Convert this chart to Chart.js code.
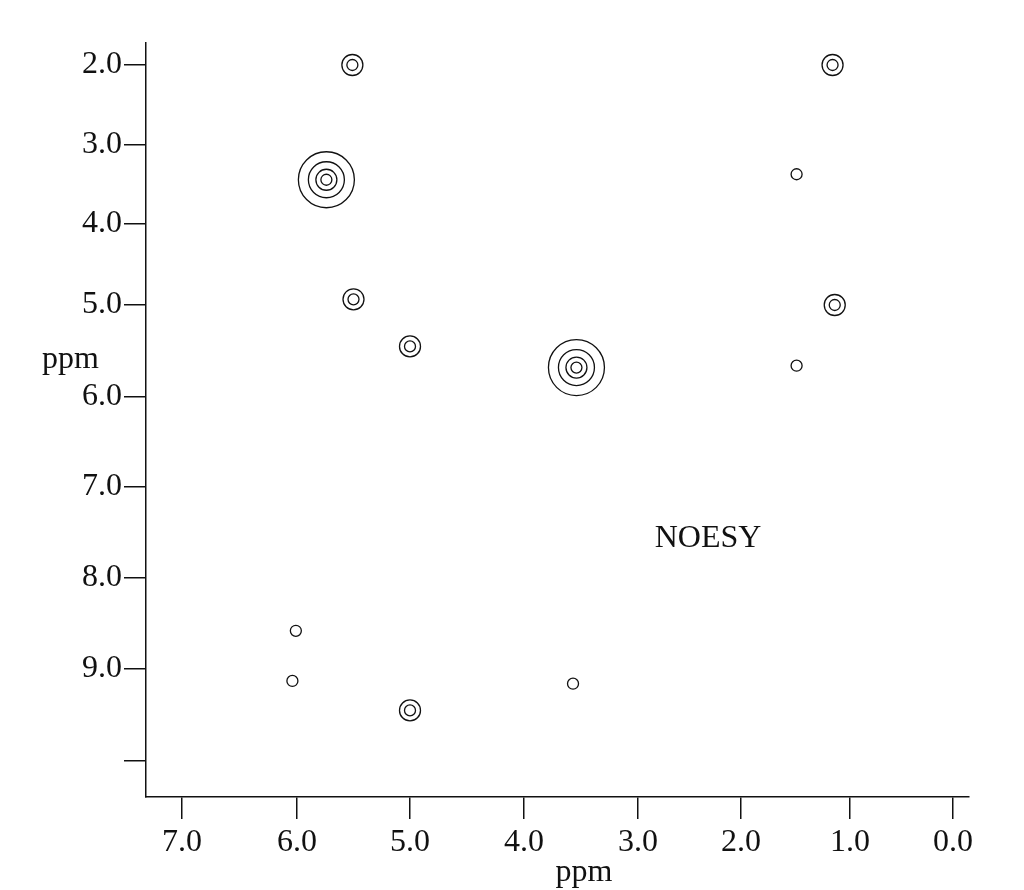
<!DOCTYPE html>
<html><head><meta charset="utf-8">
<script src="https://cdn.jsdelivr.net/npm/chart.js@4"></script>
<style>html,body{margin:0;padding:0;background:#fff}#w{width:1024px;height:890px}</style>
</head><body><div id="w"><canvas id="c"></canvas></div>
<script>
// Peak positions (ppm) and number of contour rings
const peakX = [5.51, 1.16, 5.74, 1.49, 5.50, 1.14, 5.00, 3.54, 1.49, 6.01, 6.04, 5.00, 3.57];
const peakY = [2.00, 2.00, 3.44, 3.37, 4.93, 5.00, 5.45, 5.68, 5.66, 8.58, 9.13, 9.45, 9.16];
const peakRings = [2, 2, 4, 1, 2, 2, 2, 4, 1, 1, 1, 2, 1];
const xTickValues = [7, 6, 5, 4, 3, 2, 1, 0];
const yTickValues = [2, 3, 4, 5, 6, 7, 8, 9, 10];
const yTickLabels = ['2.0','3.0','4.0','5.0','6.0','7.0','8.0','9.0',''];
const xTickLabels = ['7.0','6.0','5.0','4.0','3.0','2.0','1.0','0.0'];

// Scale layout (fraction of axis length at each anchor value) – styling only
const xAnch = {v:[7.31,7,6,5,4,3,2,1,0,-0.15], f:[0,36,151,264,378,492,595,704,807,823].map(p=>p/823)};
const yAnch = {v:[1.72,2,3,4,5,6,7,8,9,10,10.39], f:[0,22,102,181,262,354,444,535,626,718,754].map(p=>p/754)};
const ringRadii = [5.5, 10.5, 18, 28];

function interp(xs, ys, v){
  const inc = xs[xs.length-1] > xs[0];
  for(let i=0;i<xs.length-1;i++){
    const a=xs[i], b=xs[i+1];
    if((v>=Math.min(a,b) && v<=Math.max(a,b)) || i===xs.length-2){
      return ys[i] + (v-a)*(ys[i+1]-ys[i])/(b-a);
    }
  }
}
class PiecewiseScale extends Chart.LinearScale {
  getPixelForValue(v){
    const a = this.options.anchors;
    const f = interp(a.v, a.f, v);
    return this.isHorizontal() ? this.left + f*this.width : this.top + f*this.height;
  }
  getValueForPixel(p){
    const a = this.options.anchors;
    const f = this.isHorizontal() ? (p-this.left)/this.width : (p-this.top)/this.height;
    return interp(a.f, a.v, f);
  }
}
PiecewiseScale.id = 'piecewise';
PiecewiseScale.defaults = Chart.LinearScale.defaults;
Chart.register(PiecewiseScale);

const datasets = ringRadii.map((r,k)=>({
  data: peakX.map((x,i)=>({x, y: peakY[i], n: peakRings[i]})).filter(p=>p.n>k),
  pointRadius: r, pointStyle:'circle',
  backgroundColor:'rgba(0,0,0,0)', borderColor:'#111', borderWidth:1.3
}));

const font = {family:'Liberation Serif', size:32};
const textPlugin = {
  id:'txt',
  afterDraw(chart){
    const c = chart.ctx; c.save();
    c.fillStyle='#111'; c.font='32px "Liberation Serif"'; c.textBaseline='middle';
    c.textAlign='left'; c.fillText('ppm', 42, 360);
    c.textAlign='center'; c.fillText('ppm', 584, 873);
    const xs = chart.scales.x, ys = chart.scales.y;
    c.fillText('NOESY', xs.getPixelForValue(2.32), ys.getPixelForValue(7.57));
    c.restore();
  }
};

new Chart(document.getElementById('c'), {
  type:'scatter',
  data:{datasets},
  plugins:[textPlugin],
  options:{
    responsive:true, maintainAspectRatio:false, animation:false,
    layout:{padding:{top:43, right:55, left:0, bottom:0}},
    plugins:{legend:{display:false}, tooltip:{enabled:false}},
    scales:{
      x:{type:'piecewise', anchors:xAnch, min:-0.15, max:7.31, reverse:true,
        afterFit(s){s.height=93;},
        afterBuildTicks(s){s.ticks = xTickValues.map(v=>({value:v}));},
        border:{display:true,color:'#111',width:1.5},
        grid:{drawOnChartArea:false, drawTicks:true, tickLength:22, color:'#111', lineWidth:1.5},
        ticks:{color:'#111', font, padding:4, maxRotation:0, autoSkip:false,
          callback:(v,i)=>xTickLabels[i]}},
      y:{type:'piecewise', anchors:yAnch, min:1.72, max:10.39, reverse:true,
        afterFit(s){s.width=146;},
        afterBuildTicks(s){s.ticks = yTickValues.map(v=>({value:v}));},
        border:{display:true,color:'#111',width:1.5},
        grid:{drawOnChartArea:false, drawTicks:true, tickLength:22, color:'#111', lineWidth:1.5},
        ticks:{color:'#111', font, padding:2, autoSkip:false,
          callback:(v,i)=>yTickLabels[i]}}
    }
  }
});
</script></body></html>
